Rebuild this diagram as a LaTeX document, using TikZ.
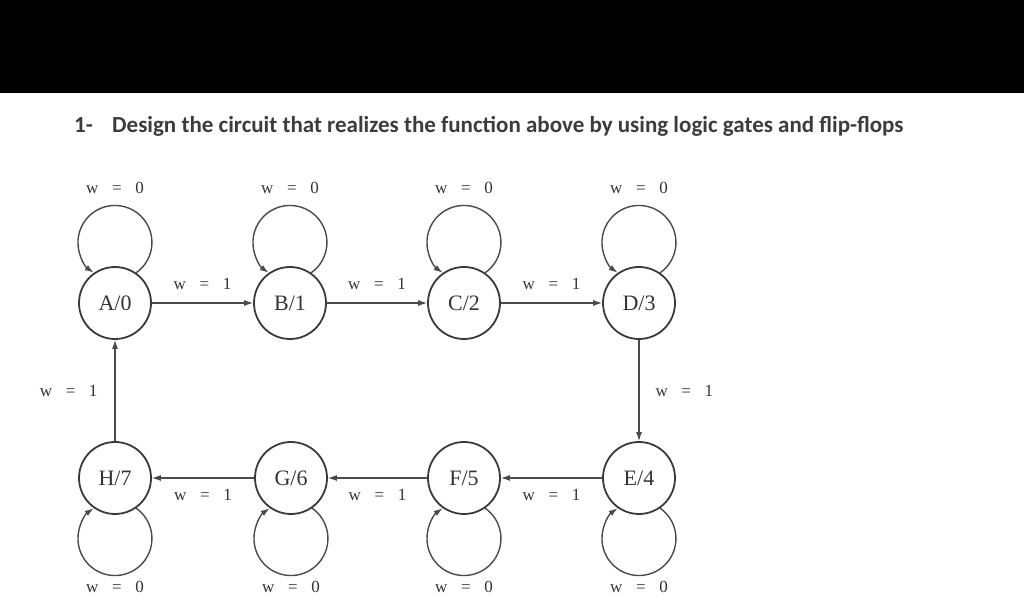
\documentclass[tikz,border=0pt]{standalone}
\usepackage{fontspec}
\setmainfont{Liberation Serif}
\newfontfamily\titlefont{Carlito}
\usetikzlibrary{arrows.meta,calc}
\definecolor{circ}{HTML}{3A3A3A}
\definecolor{edgec}{HTML}{4A4A4A}
\definecolor{txt}{HTML}{333333}
\definecolor{ttlc}{HTML}{3C3C3C}
\newcommand\wlab[1]{w\hspace{0.8em}=\hspace{0.8em}#1}
\begin{document}
\begin{tikzpicture}[x=1pt,y=1pt,
 state/.style={circle, draw=circ, line width=1.8pt, minimum size=72pt, inner sep=0pt, font=\fontsize{22}{24}\selectfont, text=txt},
 trans/.style={draw=edgec, line width=1.1pt, -{Latex[length=9pt,width=6pt]}},
 selfloop/.style={draw=edgec, line width=1.4pt, -{Latex[length=9pt,width=6pt]}},
 lab/.style={font=\fontsize{17}{19}\selectfont, text=txt, inner sep=0pt},
 ttl/.style={anchor=base west, font=\titlefont\bfseries\fontsize{23}{26}\selectfont, text=ttlc, inner sep=0pt}]
\useasboundingbox (0,0) rectangle (1024,610);
\fill[black] (0,517) rectangle (1024,610);
\node[ttl] (num) at (74,477) {1-};
\node[ttl] (title) at (112,477) {Design the circuit that realizes the function above by using logic gates and flip-flops};

\node[state] (A) at (115,307) {A/0};
\node[state] (B) at (290,307) {B/1};
\node[state] (C) at (464,307) {C/2};
\node[state] (D) at (639,307) {D/3};
\node[state] (H) at (115,132) {H/7};
\node[state] (G) at (291,132) {G/6};
\node[state] (F) at (464,132) {F/5};
\node[state] (E) at (639,132) {E/4};

\draw[trans] (A) -- node[lab, midway, yshift=19pt] (ab) {\wlab{1}} (B);
\draw[trans] (B) -- node[lab, midway, yshift=19pt] (bc) {\wlab{1}} (C);
\draw[trans] (C) -- node[lab, midway, yshift=19pt] (cd) {\wlab{1}} (D);
\draw[trans] (E) -- node[lab, midway, yshift=-17pt] (ef) {\wlab{1}} (F);
\draw[trans] (F) -- node[lab, midway, yshift=-17pt] (fg) {\wlab{1}} (G);
\draw[trans] (G) -- node[lab, midway, yshift=-17pt] (gh) {\wlab{1}} (H);
\draw[trans] (D) -- node[lab, midway, anchor=west, xshift=16pt] (de) {\wlab{1}} (E);
\draw[trans] (H) -- node[lab, midway, anchor=east, xshift=-17pt] (ha) {\wlab{1}} (A);

\foreach \n in {A,B,C,D}{
  \draw[selfloop] (\n.55) arc[start angle=-55, end angle=235, radius=37];
  \node[lab] (l\n) at ($(\n)+(0,115)$) {\wlab{0}};
}
\foreach \n in {E,F,G,H}{
  \draw[selfloop] (\n.-55) arc[start angle=55, end angle=-235, radius=37];
  \node[lab] (l\n) at ($(\n)+(0,-109)$) {\wlab{0}};
}
\end{tikzpicture}
\end{document}
